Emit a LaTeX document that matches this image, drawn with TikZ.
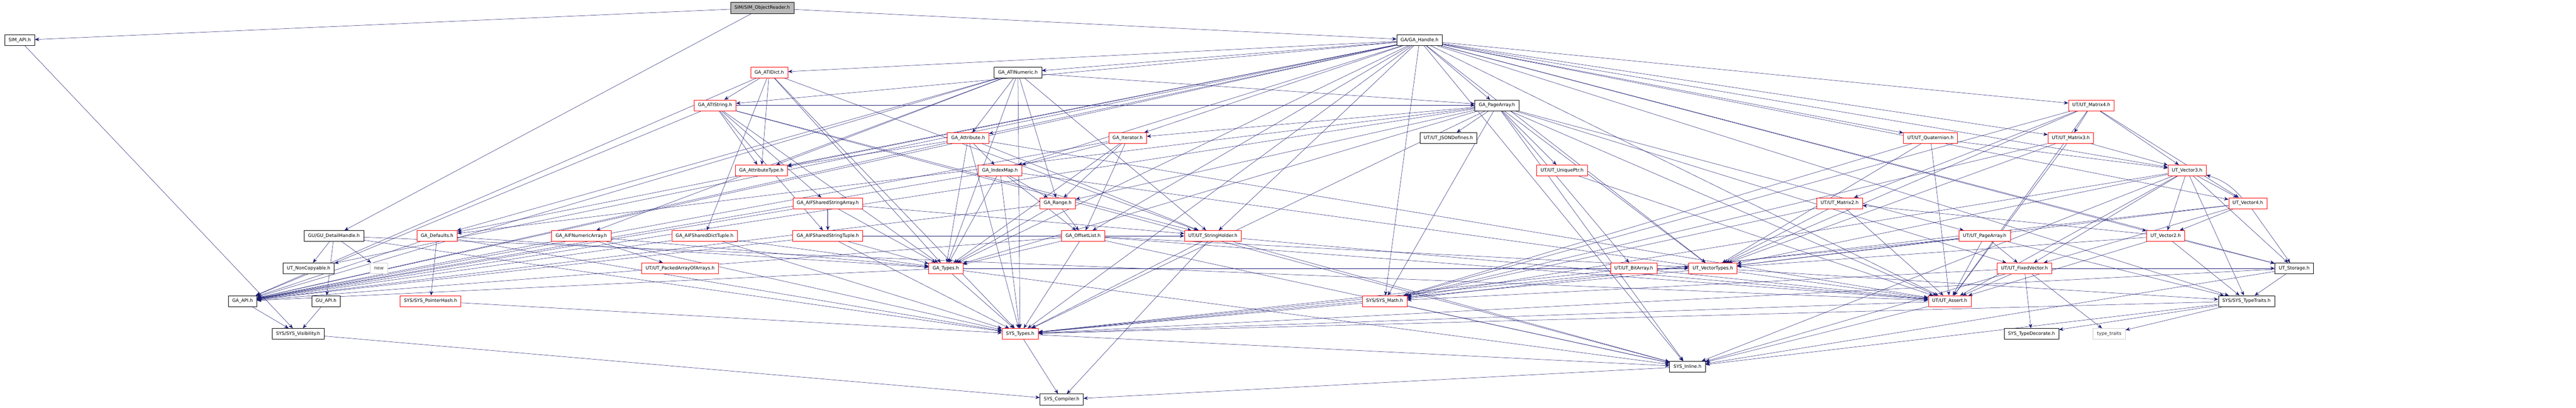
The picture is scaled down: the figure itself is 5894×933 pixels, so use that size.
\documentclass[tikz,border=0pt]{standalone}
\usepackage{fontspec}
\setmainfont{DejaVu Sans}
\usetikzlibrary{arrows.meta,positioning,backgrounds}

\begin{document}
\begin{tikzpicture}[
    x=1pt, y=-1pt,
    file/.style={
        rectangle,
        draw=black,
        fill=white,
        thick,
        minimum height=25pt,
        inner xsep=9pt,
        font=\fontsize{10.5}{12}\selectfont
    },
    redfile/.style={file, draw=red},
    sysfile/.style={file, draw=gray!40, text=black!80},
    rootfile/.style={file, fill=gray!55},
    inc/.style={
        -{Stealth[length=10pt,width=8pt]},
        color={rgb,255:red,25;green,25;blue,112},
        semithick
    }
]
\useasboundingbox (0,0) rectangle (5894,933);

% Root and top rows
\node[rootfile] (reader) at (1744,18) {SIM/SIM\_ObjectReader.h};
\node[file] (simapi) at (45,92) {SIM\_API.h};
\node[file] (handle) at (3248,92) {GA/GA\_Handle.h};
\node[redfile] (atidict) at (1760,166) {GA\_ATIDict.h};
\node[file] (atinumeric) at (2329,166) {GA\_ATINumeric.h};
\node[redfile] (atistring) at (1636,241) {GA\_ATIString.h};
\node[file] (pagearray) at (3425,241) {GA\_PageArray.h};
\node[redfile] (matrix4) at (4785,241) {UT/UT\_Matrix4.h};

% Middle rows
\node[redfile] (attribute) at (2215,316) {GA\_Attribute.h};
\node[redfile] (iterator) at (2580,316) {GA\_Iterator.h};
\node[file] (jsondefines) at (3314,316) {UT/UT\_JSONDefines.h};
\node[redfile] (quaternion) at (4417,316) {UT/UT\_Quaternion.h};
\node[redfile] (matrix3) at (4738,316) {UT/UT\_Matrix3.h};
\node[redfile] (attrtype) at (1742,390) {GA\_AttributeType.h};
\node[redfile] (indexmap) at (2288,390) {GA\_IndexMap.h};
\node[redfile] (uniqueptr) at (3574,390) {UT/UT\_UniquePtr.h};
\node[redfile] (vector3) at (5004,390) {UT\_Vector3.h};
\node[redfile] (sstrarray) at (1894,465) {GA\_AIFSharedStringArray.h};
\node[redfile] (range) at (2420,465) {GA\_Range.h};
\node[redfile] (matrix2) at (4209,465) {UT/UT\_Matrix2.h};
\node[redfile] (vector4) at (5143,465) {UT\_Vector4.h};

% Lower rows
\node[file] (detailhandle) at (764,540) {GU/GU\_DetailHandle.h};
\node[redfile] (defaults) at (1000,540) {GA\_Defaults.h};
\node[redfile] (numarray) at (1330,540) {GA\_AIFNumericArray.h};
\node[redfile] (sdicttuple) at (1612,540) {GA\_AIFSharedDictTuple.h};
\node[redfile] (sstrtuple) at (1894,540) {GA\_AIFSharedStringTuple.h};
\node[redfile] (offsetlist) at (2478,540) {GA\_OffsetList.h};
\node[redfile] (stringholder) at (2775,540) {UT/UT\_StringHolder.h};
\node[redfile] (utpagearray) at (4541,540) {UT/UT\_PageArray.h};
\node[redfile] (vector2) at (4955,540) {UT\_Vector2.h};
\node[file] (noncopyable) at (706,614) {UT\_NonCopyable.h};
\node[sysfile] (new) at (867,614) {new};
\node[redfile] (packedarrays) at (1556,614) {UT/UT\_PackedArrayOfArrays.h};
\node[redfile] (gatypes) at (2164,614) {GA\_Types.h};
\node[redfile] (bitarray) at (3738,614) {UT/UT\_BitArray.h};
\node[redfile] (vectortypes) at (3919,614) {UT\_VectorTypes.h};
\node[redfile] (fixedvector) at (4632,614) {UT/UT\_FixedVector.h};
\node[file] (storage) at (5249,614) {UT\_Storage.h};
\node[file] (gaapi) at (555,689) {GA\_API.h};
\node[file] (guapi) at (746,689) {GU\_API.h};
\node[redfile] (pointerhash) at (985,689) {SYS/SYS\_PointerHash.h};
\node[redfile] (sysmath) at (3168,689) {SYS/SYS\_Math.h};
\node[redfile] (utassert) at (4461,689) {UT/UT\_Assert.h};
\node[file] (typetraits) at (5140,689) {SYS/SYS\_TypeTraits.h};
\node[file] (visibility) at (682,764) {SYS/SYS\_Visibility.h};
\node[redfile] (systypes) at (2334,764) {SYS\_Types.h};
\node[file] (typedecorate) at (4648,764) {SYS\_TypeDecorate.h};
\node[sysfile] (stdtraits) at (4826,764) {type\_traits};
\node[file] (inline) at (3861,839) {SYS\_Inline.h};
\node[file] (compiler) at (2429,914) {SYS\_Compiler.h};

\begin{scope}[on background layer]
% Root includes
\foreach \dst in {simapi,handle,detailhandle}
    \draw[inc] (reader) -- (\dst);
\draw[inc] (simapi) -- (visibility);
\draw[inc] (guapi) -- (visibility);
\draw[inc] (gaapi) -- (visibility);
\draw[inc] (visibility) -- (compiler);
\foreach \dst in {noncopyable,new,guapi,systypes,utassert}
    \draw[inc] (detailhandle) -- (\dst);

% GA_Handle includes
\foreach \dst in {atidict,atinumeric,atistring,attribute,attrtype,defaults,iterator,
        offsetlist,pagearray,gatypes,gaapi,indexmap,stringholder,utassert,vector2,
        vector3,vector4,matrix4,quaternion,matrix3,inline,sysmath,vectortypes,
        typetraits,storage,systypes,noncopyable}
    \draw[inc] (handle) -- (\dst);

% Attribute helpers
\foreach \dst in {atistring,attrtype,sdicttuple,gaapi,gatypes,stringholder,systypes}
    \draw[inc] (atidict) -- (\dst);
\foreach \dst in {attrtype,sstrarray,sstrtuple,gaapi,gatypes,stringholder,pagearray,inline}
    \draw[inc] (atistring) -- (\dst);
\foreach \dst in {attribute,range,gatypes,pagearray,attrtype,defaults,gaapi,
        stringholder,numarray,systypes}
    \draw[inc] (atinumeric) -- (\dst);
\foreach \dst in {jsondefines,uniqueptr,bitarray,vectortypes,sysmath,gatypes,gaapi,
        defaults,utpagearray,utassert,systypes,iterator,range,fixedvector,inline}
    \draw[inc] (pagearray) -- (\dst);
\foreach \dst in {indexmap,gatypes,stringholder,gaapi,attrtype,systypes,utassert}
    \draw[inc] (attribute) -- (\dst);
\foreach \dst in {indexmap,range,gatypes,offsetlist,gaapi}
    \draw[inc] (iterator) -- (\dst);
\foreach \dst in {range,offsetlist,gatypes,gaapi,utassert,systypes}
    \draw[inc] (indexmap) -- (\dst);
\foreach \dst in {offsetlist,gatypes,gaapi}
    \draw[inc] (range) -- (\dst);
\foreach \dst in {gatypes,systypes,utassert,vectortypes,inline,gaapi}
    \draw[inc] (offsetlist) -- (\dst);
\foreach \dst in {systypes,compiler,utassert,inline}
    \draw[inc] (stringholder) -- (\dst);
\foreach \dst in {gaapi,systypes,inline,vectortypes}
    \draw[inc] (gatypes) -- (\dst);
\foreach \dst in {compiler,inline}
    \draw[inc] (systypes) -- (\dst);
\draw[inc] (inline) -- (compiler);
\foreach \dst in {sstrtuple,gaapi,gatypes,stringholder}
    \draw[inc] (sstrarray) -- (\dst);
\foreach \dst in {gaapi,gatypes,systypes,stringholder}
    \draw[inc] (sstrtuple) -- (\dst);
\foreach \dst in {gaapi,gatypes,systypes}
    \draw[inc] (sdicttuple) -- (\dst);
\foreach \dst in {packedarrays,gaapi,gatypes,systypes}
    \draw[inc] (numarray) -- (\dst);
\foreach \dst in {gaapi,gatypes,systypes,pointerhash}
    \draw[inc] (defaults) -- (\dst);
\draw[inc] (pointerhash) -- (systypes);

% UT and SYS includes
\foreach \dst in {systypes,inline}
    \draw[inc] (sysmath) -- (\dst);
\foreach \dst in {systypes,inline}
    \draw[inc] (utassert) -- (\dst);
\draw[inc] (uniqueptr) -- (utassert);
\foreach \dst in {systypes,utassert}
    \draw[inc] (bitarray) -- (\dst);
\foreach \dst in {systypes,typetraits}
    \draw[inc] (vectortypes) -- (\dst);
\foreach \dst in {matrix3,vector3,vector4,utassert,vectortypes,sysmath,matrix2}
    \draw[inc] (matrix4) -- (\dst);
\foreach \dst in {vector3,utassert,vectortypes,sysmath}
    \draw[inc] (matrix3) -- (\dst);
\foreach \dst in {vector3,vectortypes,sysmath,utassert}
    \draw[inc] (quaternion) -- (\dst);
\foreach \dst in {vectortypes,utassert,sysmath}
    \draw[inc] (matrix2) -- (\dst);
\foreach \dst in {vector4,vector2,storage,vectortypes,utassert,sysmath,typetraits,inline,fixedvector}
    \draw[inc] (vector3) -- (\dst);
\foreach \dst in {vector2,storage,fixedvector,vectortypes,sysmath}
    \draw[inc] (vector4) -- (\dst);
\draw[inc] (vector4) to[bend right=15] (vector3);
\foreach \dst in {matrix2,storage,vectortypes,utassert,typetraits}
    \draw[inc] (vector2) -- (\dst);
\foreach \dst in {fixedvector,utassert,systypes,vectortypes,typetraits}
    \draw[inc] (utpagearray) -- (\dst);
\foreach \dst in {typedecorate,utassert,sysmath,stdtraits,inline,storage}
    \draw[inc] (fixedvector) -- (\dst);
\foreach \dst in {typetraits,systypes,inline}
    \draw[inc] (storage) -- (\dst);
\foreach \dst in {stdtraits,typedecorate,systypes,inline}
    \draw[inc] (typetraits) -- (\dst);
\end{scope}

\end{tikzpicture}
\end{document}
